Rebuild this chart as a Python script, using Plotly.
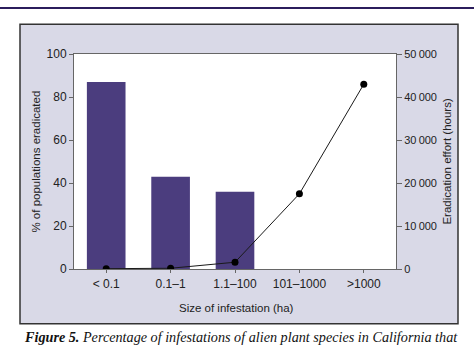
import plotly.graph_objects as go

categories = ["< 0.1", "0.1\u20131", "1.1\u2013100", "101\u20131000", ">1000"]
pct_eradicated = [87, 43, 36, None, None]
effort_hours = [100, 200, 1600, 17500, 43000]
left_ticks = [0, 20, 40, 60, 80, 100]
right_ticks = [0, 10000, 20000, 30000, 40000, 50000]
right_ticktext = ["0", "10\u2009000", "20\u2009000", "30\u2009000", "40\u2009000", "50\u2009000"]

W, H = 474, 351
x0, x1, ytop, ybot = 74, 396, 49, 273

def px(x):
    return x / W

def py(y):
    return 1 - y / H

font = dict(family="Liberation Sans, Arial, sans-serif", size=12, color="#222222")
rfont = dict(family="Liberation Sans, Arial, sans-serif", size=11, color="#222222")
tfont = dict(family="Liberation Sans, Arial, sans-serif", size=11.5, color="#222222")
axcol = "#666666"

fig = go.Figure()
fig.add_trace(go.Bar(x=list(range(5)), y=pct_eradicated, width=0.6,
                     marker=dict(color="#4b3d7e", line=dict(width=0)), yaxis="y"))
fig.add_trace(go.Scatter(x=list(range(5)), y=effort_hours, mode="lines+markers",
                         line=dict(color="#1a1a1a", width=1),
                         marker=dict(color="#000000", size=7), yaxis="y2"))

fig.update_layout(
    width=W, height=H, margin=dict(l=0, r=0, t=0, b=0),
    paper_bgcolor="white", plot_bgcolor="white", showlegend=False,
    font=font,
    xaxis=dict(domain=[px(x0), px(x1)], range=[-0.5, 4.5],
               tickvals=list(range(5)), ticktext=categories,
               showline=True, linecolor=axcol, linewidth=1, mirror=True,
               ticks="outside", ticklen=3, tickcolor=axcol, showgrid=False,
               zeroline=False, tickfont=font),
    yaxis=dict(domain=[py(ybot), py(ytop)], range=[0, 100],
               tickvals=left_ticks, showline=True, linecolor=axcol, linewidth=1,
               mirror=True, ticks="outside", ticklen=4, tickcolor=axcol,
               showgrid=False, zeroline=False, tickfont=font),
    yaxis2=dict(overlaying="y", side="right", anchor="x", range=[0, 50000],
                tickvals=right_ticks, ticktext=right_ticktext,
                showline=False, ticks="outside", ticklen=5, tickcolor=axcol,
                showgrid=False, zeroline=False, tickfont=rfont),
    shapes=[
        dict(type="rect", xref="paper", yref="paper", x0=px(20), x1=px(458),
             y0=py(330), y1=py(18), fillcolor="#d9d9e7",
             line=dict(color="#333333", width=1.5), layer="below"),
        dict(type="rect", xref="paper", yref="paper", x0=px(x0), x1=px(x1),
             y0=py(ybot), y1=py(ytop), fillcolor="white",
             line=dict(width=0), layer="below"),
        dict(type="rect", xref="paper", yref="paper", x0=0, x1=1,
             y0=py(2), y1=1, fillcolor="#2b1d5c", line=dict(width=0)),
    ],
    annotations=[
        dict(text="% of populations eradicated", xref="paper", yref="paper",
             x=px(36), y=py((ytop + ybot) / 2), textangle=-90, showarrow=False,
             xanchor="center", yanchor="middle", font=tfont),
        dict(text="Eradication effort (hours)", xref="paper", yref="paper",
             x=px(447), y=py((ytop + ybot) / 2), textangle=-90, showarrow=False,
             xanchor="center", yanchor="middle", font=tfont),
        dict(text="Size of infestation (ha)", xref="paper", yref="paper",
             x=px(236), y=py(313), showarrow=False,
             xanchor="center", yanchor="middle", font=tfont),
        dict(text="<b><i>Figure 5.</i></b> <i>Percentage of infestations of alien plant species in California that</i>",
             xref="paper", yref="paper", x=px(22), y=py(344), showarrow=False,
             xanchor="left", yanchor="middle",
             font=dict(family="Liberation Serif, serif", size=14.2, color="#111111")),
    ],
)

fig.write_html("out.html")
